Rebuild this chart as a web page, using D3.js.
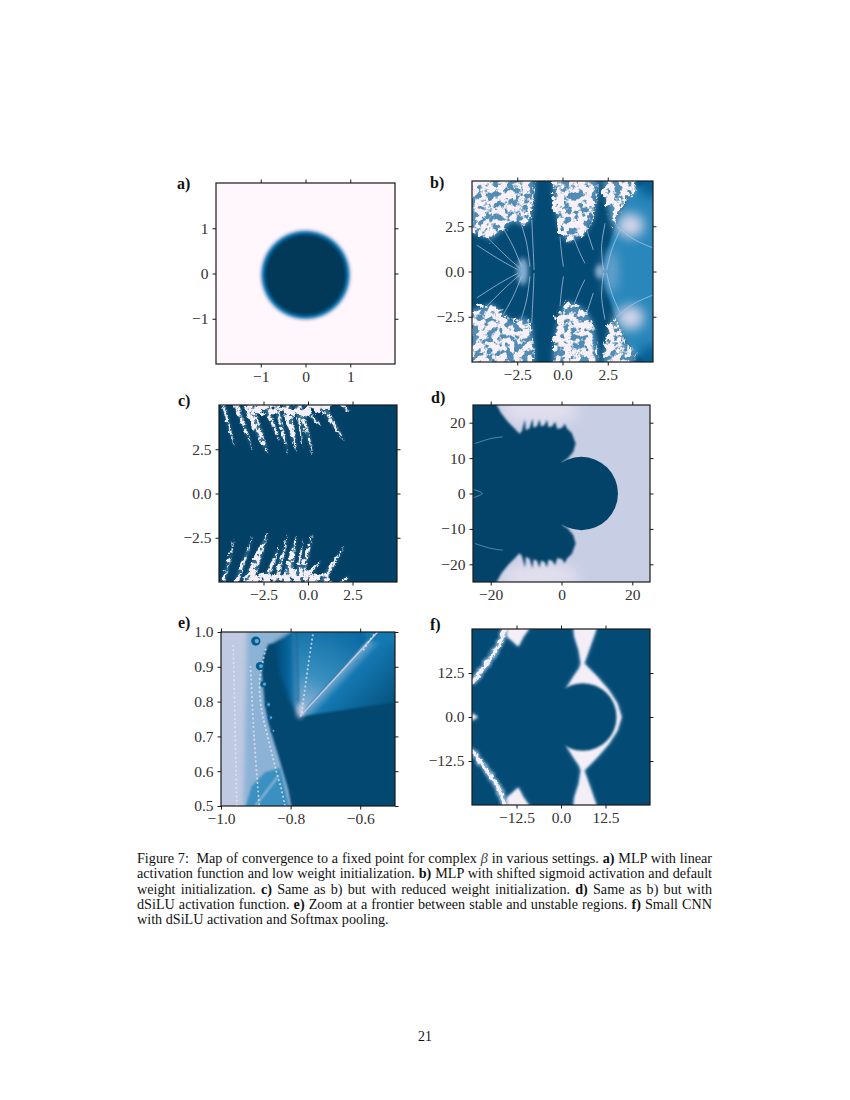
<!DOCTYPE html>
<html>
<head>
<meta charset="utf-8">
<script src="https://cdn.jsdelivr.net/npm/d3@7"></script>
<style>
  body { margin: 0; background: #fff; }
  svg { display: block; }
</style>
</head>
<body>
<script>
// ---------------- DATA (data coordinates) ----------------

// a) linear MLP: dark disc of radius ~1
var aDomain = [-2, 2];
var aTicks = [-1, 0, 1];
var aBackground = 0.0;
var aDiscCenter = [0, -0.03];
var aDiscProfile = [[0, 1], [0.85, 1], [0.91, 0.88], [0.96, 0.62], [1.0, 0.32], [1.04, 0.09], [1.08, 0]]; // radius, value

// b) shifted sigmoid, default init (top half, mirrored in y)
var bDomain = [-5, 5];
var bTicks = [-2.5, 0, 2.5];
var bDark = 0.93;
var bWhite = 0.05;
var bWhiteTop = [
  [[-5.3, 5.3], [-1.52, 5.3], [-1.52, 4.5], [-1.70, 2.85], [-2.16, 2.5], [-2.72, 2.75], [-3.27, 2.3], [-3.91, 1.75], [-4.47, 1.95], [-5.3, 2.2]],
  [[-0.51, 5.3], [1.98, 5.3], [1.98, 4.32], [1.70, 2.85], [1.34, 2.2], [0.78, 1.8], [0.23, 1.65], [-0.14, 2.2], [-0.41, 3.40], [-0.54, 4.5]],
  [[2.22, 5.3], [3.91, 5.3], [4.10, 4.5], [3.55, 3.95], [3.18, 3.21], [2.90, 2.48], [2.62, 2.85], [2.44, 3.77], [2.26, 4.5]]
];
var bRight = [[3.18, 3.21], [3.91, 4.5], [5.3, 5.3], [5.3, -5.3], [3.91, -4.5], [3.18, -3.21], [2.90, -2.48], [2.44, -1.0],
  [2.16, 0], [2.44, 1.0], [2.90, 2.48]];
var bRightValue = 0.66;
var bRightGlows = [[3.75, 2.55, 0.75, 0.65, 0.22], [3.75, -2.55, 0.75, 0.65, 0.22], [5.0, 5.0, 0.9, 0.9, 0.85],
  [5.0, -5.0, 0.9, 0.9, 0.85], [2.7, 0, 0.35, 1.2, 0.5]];
var bStreaks = [
  [[-4.19, 1.92], [-3.08, 0.82], [-2.35, 0.18]],
  [[-4.74, 1.46], [-3.45, 0.64], [-2.44, 0.08]],
  [[-3.27, 2.38], [-2.72, 1.37], [-2.26, 0.27]],
  [[-2.35, 2.85], [-1.98, 1.56], [-1.80, 0.27]],
  [[-1.70, 2.85], [-1.61, 1.0], [-1.57, 0.08]],
  [[-0.14, 1.92], [-0.05, 1.0], [0.05, 0.27]],
  [[0.60, 1.92], [0.97, 1.0], [1.24, 0.45]],
  [[1.34, 2.29], [1.70, 1.19]],
  [[2.35, 2.66], [2.16, 1.37], [2.26, 0.08]],
  [[3.18, 2.29], [2.72, 1.19], [2.44, 0.08]],
  [[3.0, 2.5], [3.9, 1.8], [5.0, 1.3]]
];
var bGlows = [[-2.2, 0, 0.3, 0.75, 0.45], [2.05, 0, 0.22, 0.4, 0.4]];

// c) reduced init: streaks from the top edge (mirrored for the bottom)
var cDomain = [-5, 5];
var cTicks = [-2.5, 0, 2.5];
var cDark = 0.97;
var cWhite = 0.07;
var cStreaks = [ // x top, y top, x tip, y tip, width
  [-4.78, 5.1, -4.10, 2.57, 0.18],
  [-4.04, 5.1, -3.07, 2.38, 0.24],
  [-3.40, 5.1, -2.23, 2.19, 0.55],
  [-2.45, 5.1, -1.57, 2.94, 0.3],
  [-1.80, 5.1, -1.10, 2.19, 0.26],
  [-1.24, 5.1, -0.64, 2.38, 0.5],
  [-0.66, 5.1, -0.26, 2.57, 0.22],
  [-0.50, 5.1, 0.30, 2.19, 0.3],
  [0.11, 4.44, 0.77, 3.78, 0.18],
  [0.70, 5.1, 2.08, 2.94, 0.3],
  [1.85, 5.1, 2.36, 4.63, 0.18]
];
var cTopBlob = [[-3.4, 5.3], [1.6, 5.3], [1.2, 4.7], [0.4, 4.5], [-0.6, 4.2], [-1.5, 4.6], [-2.5, 4.4], [-3.3, 4.7]];

// d) dSiLU activation
var dDomain = [-25, 25];
var dTicksX = [-20, 0, 20];
var dTicksY = [-20, -10, 0, 10, 20];
var dLight = 0.27;
var dDark = 0.96;
var dBodyTop = [[-25.5, 25.5], [-18.6, 25.5], [-17.0, 22.6], [-15.1, 20.2], [-13.2, 18.3], [-11.9, 16.9], [-11.2, 17.6],
  [-10.3, 21.0], [-10.1, 17.9], [-9.0, 18.4], [-8.2, 21.2], [-7.9, 18.6], [-6.9, 19.0], [-6.2, 21.0], [-5.8, 18.9],
  [-4.8, 19.3], [-4.1, 20.8], [-3.7, 18.7], [-2.6, 19.0], [-1.8, 20.3], [-1.2, 18.2], [0.2, 18.6], [0.9, 19.7],
  [1.6, 18.3], [2.9, 17.1], [4.0, 14.1], [3.3, 11.7], [1.7, 9.8], [0.3, 8.9], [1.0, 0]];
var dBulb = [5.6, 0, 10.35];
var dPale = [[-6, 23.5, 11, 4, 0.17], [-6, -23.5, 11, 4, 0.17]];
var dArcs = [
  [[-24.5, 14.1], [-20, 15.5], [-16.6, 16.0]],
  [[-24.5, -14.1], [-20, -15.5], [-16.6, -16.0]],
  [[-25, 1.2], [-22.4, 0], [-25, -1.2]]
];

// e) zoom at the frontier
var eDomainX = [-1.0, -0.5];
var eDomainY = [0.5, 1.0];
var eTicksX = [-1.0, -0.8, -0.6];
var eTicksY = [0.5, 0.6, 0.7, 0.8, 0.9, 1.0];
var eLight = 0.3;
var eBand = [[-0.925, 1.01], [-0.80, 1.01], [-0.80, 0.49], [-0.935, 0.49]];
var eBandValue = 0.44;
var eBandLow = [[-0.931, 0.49], [-0.912, 0.557], [-0.874, 0.596], [-0.830, 0.610], [-0.802, 0.49]];
var eBandLowValue = 0.62;
var eLowStreak = [[-0.902, 0.5], [-0.835, 0.586]];
var eBlade = [[-0.864, 0.965], [-0.878, 0.931], [-0.883, 0.883], [-0.878, 0.835], [-0.874, 0.787], [-0.864, 0.739],
  [-0.850, 0.692], [-0.835, 0.644], [-0.821, 0.596], [-0.807, 0.548], [-0.797, 0.49], [-0.49, 0.49], [-0.49, 1.01],
  [-0.783, 1.01], [-0.816, 0.979], [-0.845, 0.969]];
var eDark = 0.94;
var eCurtain = [[-0.845, 0.969], [-0.783, 1.01], [-0.773, 0.757], [-0.80, 0.80], [-0.83, 0.88]];
var eCurtainStops = [[-0.85, 0.94], [-0.80, 0.8], [-0.775, 0.55]];
var eApex = [-0.773, 0.757];
var eFan = [[-0.773, 0.757], [-0.783, 1.01], [-0.55, 1.01]];
var eFanStops = [[0, 0.2], [0.08, 0.42], [0.4, 0.62], [1, 0.8]];
var eWedge = [[-0.773, 0.757], [-0.55, 1.01], [-0.49, 1.01], [-0.49, 0.8]];
var eWedgeStops = [[0, 0.5], [0.15, 0.72], [1, 0.93]];
var eTopRight = [[-0.6, 1.01], [-0.49, 1.01], [-0.49, 0.965], [-0.575, 0.97]];
var eRay = [[-0.773, 0.757], [-0.55, 1.0]];
var eBeads = [
  [[-0.872, 0.95], [-0.889, 0.86], [-0.884, 0.78], [-0.871, 0.72], [-0.856, 0.66], [-0.841, 0.6], [-0.827, 0.55], [-0.816, 0.5]],
  [[-0.965, 0.96], [-0.96, 0.75], [-0.955, 0.5]],
  [[-0.915, 0.9], [-0.905, 0.7], [-0.89, 0.5]],
  [[-0.768, 0.77], [-0.75, 0.9], [-0.735, 1.0]],
  [[-0.59, 0.95], [-0.57, 0.98], [-0.555, 1.0]]
];
var eSpirals = [[-0.900, 0.974, 0.0134], [-0.888, 0.902, 0.012], [-0.878, 0.850, 0.009], [-0.866, 0.792, 0.008],
  [-0.859, 0.754, 0.007], [-0.852, 0.716, 0.006]];

// f) small CNN with softmax pooling
var fDomain = [-25, 25];
var fTicks = [-12.5, 0, 12.5];
var fDark = 0.93;
var fLight = 0.07;
var fCrescent = [[3.5, 25.5], [10.1, 25.5], [8.2, 20], [6.5, 15.2], [10.1, 11.5], [13.4, 7.7], [15.8, 3.9], [17.0, 0],
  [15.8, -3.9], [13.4, -7.7], [10.1, -11.5], [6.5, -15.2], [8.2, -20], [10.1, -25.5], [3.5, -25.5], [3.8, -22.8],
  [5.0, -19], [5.6, -15.2], [5.1, -13.8], [3.5, -11.4], [1.65, -8.4], [1.65, 8.4], [3.5, 11.4], [5.1, 13.8],
  [5.6, 15.2], [5.0, 19], [3.8, 22.8]];
var fWedgeTop = [[-16.2, 25.5], [-8.7, 25.5], [-10.6, 22.8], [-12.0, 20.0], [-13.4, 21.4], [-15.1, 22.8]];
var fNotch = [[-25.5, 1.2], [-23.3, 0], [-25.5, -1.2]];
var fRaggedTop = [[-25.5, 9.5], [-24.7, 10.0], [-21.9, 13.8], [-19.5, 17.1], [-17.2, 20.9], [-15.8, 25.5]];
var fBulb = [6.1, 0, 9.5];

// caption and page
var panelNames = ["a)", "b)", "c)", "d)", "e)", "f)"];
var captionLines = [
  [["Figure 7:  Map of convergence to a fixed point for complex ", "n"], ["\u03b2", "i"], [" in various settings. ", "n"], ["a)", "b"], [" MLP with linear", "n"]],
  [["activation function and low weight initialization. ", "n"], ["b)", "b"], [" MLP with shifted sigmoid activation and default", "n"]],
  [["weight initialization. ", "n"], ["c)", "b"], [" Same as b) but with reduced weight initialization. ", "n"], ["d)", "b"], [" Same as b) but with", "n"]],
  [["dSiLU activation function. ", "n"], ["e)", "b"], [" Zoom at a frontier between stable and unstable regions. ", "n"], ["f)", "b"], [" Small CNN", "n"]],
  [["with dSiLU activation and Softmax pooling.", "n"]]
];
var pageNumber = "21";

// ---------------- LAYOUT ----------------
var boxes = {
  a: {x: 216, y: 183, w: 179, h: 181, lx: 177, ly: 189},
  b: {x: 472, y: 181, w: 181, h: 181, lx: 430, ly: 188},
  c: {x: 219, y: 405, w: 178, h: 177, lx: 178, ly: 406},
  d: {x: 473, y: 405, w: 177, h: 177, lx: 431, ly: 403},
  e: {x: 221, y: 632, w: 174, h: 174, lx: 178, ly: 628},
  f: {x: 472, y: 629, w: 178, h: 176, lx: 430, ly: 630}
};
var serif = '"Liberation Serif", "Times New Roman", Times, serif';
var color = d3.interpolatePuBu;

var svg = d3.select("body").append("svg").attr("width", 850).attr("height", 1100);
var defs = svg.append("defs");

// ---------------- HELPERS ----------------
function makePanel(key, xDomain, yDomain) {
  var b = boxes[key];
  var p = {key: key, box: b};
  p.x = d3.scaleLinear().domain(xDomain).range([b.x, b.x + b.w]);
  p.y = d3.scaleLinear().domain(yDomain).range([b.y + b.h, b.y]);
  p.ux = Math.abs(p.x(1) - p.x(0));
  defs.append("clipPath").attr("id", "clip-" + key).append("rect")
    .attr("x", b.x).attr("y", b.y).attr("width", b.w).attr("height", b.h);
  p.g = svg.append("g").attr("id", "panel-" + key);
  p.img = p.g.append("g").attr("clip-path", "url(#clip-" + key + ")");
  return p;
}

function filterEl(key, name) {
  var b = boxes[key];
  return defs.append("filter").attr("id", key + "-" + name)
    .attr("filterUnits", "userSpaceOnUse")
    .attr("x", b.x - 15).attr("y", b.y - 15).attr("width", b.w + 30).attr("height", b.h + 30)
    .attr("color-interpolation-filters", "sRGB");
}

function blurFilter(key, name, sd) {
  filterEl(key, name).append("feGaussianBlur").attr("stdDeviation", sd);
  return "url(#" + key + "-" + name + ")";
}

// ragged, mottled look for the fractal regions
function speckleFilter(key, name, freq, octaves, cut, disp, seed) {
  var f = filterEl(key, name);
  f.append("feTurbulence").attr("type", "fractalNoise").attr("baseFrequency", freq)
    .attr("numOctaves", octaves).attr("seed", seed).attr("result", "noise");
  f.append("feDisplacementMap").attr("in", "SourceGraphic").attr("in2", "noise").attr("scale", disp)
    .attr("xChannelSelector", "R").attr("yChannelSelector", "G").attr("result", "disp");
  f.append("feColorMatrix").attr("in", "noise").attr("type", "matrix")
    .attr("values", "0 0 0 0 0  0 0 0 0 0  0 0 0 0 0  8 0 0 0 " + (-8 * cut)).attr("result", "holes");
  f.append("feComposite").attr("in", "disp").attr("in2", "holes").attr("operator", "in").attr("result", "spk");
  f.append("feGaussianBlur").attr("in", "spk").attr("stdDeviation", 0.3);
  return "url(#" + key + "-" + name + ")";
}

function raggedFilter(key, name, freq, disp, sd) {
  var f = filterEl(key, name);
  f.append("feTurbulence").attr("type", "fractalNoise").attr("baseFrequency", freq)
    .attr("numOctaves", 2).attr("seed", 2).attr("result", "noise");
  f.append("feDisplacementMap").attr("in", "SourceGraphic").attr("in2", "noise").attr("scale", disp)
    .attr("xChannelSelector", "R").attr("yChannelSelector", "G").attr("result", "disp");
  f.append("feGaussianBlur").attr("in", "disp").attr("stdDeviation", sd);
  return "url(#" + key + "-" + name + ")";
}

function shape(p, pts) {
  return d3.line().x(function(d) { return p.x(d[0]); }).y(function(d) { return p.y(d[1]); })(pts) + "Z";
}
function curve(p, pts) {
  return d3.line().curve(d3.curveCatmullRom).x(function(d) { return p.x(d[0]); }).y(function(d) { return p.y(d[1]); })(pts);
}
function mirror(pts) { return pts.map(function(d) { return [d[0], -d[1]]; }); }

function fillRect(p, v) {
  var b = p.box;
  p.img.append("rect").attr("x", b.x - 2).attr("y", b.y - 2).attr("width", b.w + 4).attr("height", b.h + 4).attr("fill", color(v));
}

function addStops(grad, stops) {
  grad.selectAll("stop").data(stops).enter().append("stop")
    .attr("offset", function(d) { return d[0]; })
    .attr("stop-color", function(d) { return color(d[1]); });
}

function ellipses(p, sel, data) {
  return sel.selectAll("ellipse").data(data).enter().append("ellipse")
    .attr("cx", function(d) { return p.x(d[0]); }).attr("cy", function(d) { return p.y(d[1]); })
    .attr("rx", function(d) { return d[2] * p.ux; }).attr("ry", function(d) { return d[3] * p.ux; })
    .attr("fill", function(d) { return color(d[4]); });
}

function streakPath(p, s) {
  var x1 = p.x(s[0]), y1 = p.y(s[1]), x2 = p.x(s[2]), y2 = p.y(s[3]);
  var dx = x2 - x1, dy = y2 - y1, len = Math.hypot(dx, dy);
  var nx = -dy / len, ny = dx / len, hw = s[4] * p.ux / 2;
  var mx = x1 + dx * 0.6, my = y1 + dy * 0.6;
  return "M" + [x1 + nx * hw, y1 + ny * hw] + "L" + [mx + nx * hw * 0.6, my + ny * hw * 0.6] + "L" + [x2, y2] +
    "L" + [mx - nx * hw * 0.6, my - ny * hw * 0.6] + "L" + [x1 - nx * hw, y1 - ny * hw] + "Z";
}

function drawAxes(p, xTicks, yTicks, xFmt, yFmt, name) {
  var b = p.box;
  var frame = p.g.append("g");
  frame.append("rect").attr("x", b.x).attr("y", b.y).attr("width", b.w).attr("height", b.h)
    .attr("fill", "none").attr("stroke", "#1a1a1a").attr("stroke-width", 1.2);
  frame.append("g").attr("transform", "translate(0," + (b.y + b.h) + ")")
    .call(d3.axisBottom(p.x).tickValues(xTicks).tickFormat(xFmt).tickSize(3.5).tickPadding(3.5));
  frame.append("g").attr("transform", "translate(" + b.x + ",0)")
    .call(d3.axisLeft(p.y).tickValues(yTicks).tickFormat(yFmt).tickSize(3.5).tickPadding(4));
  frame.append("g").attr("transform", "translate(0," + b.y + ")")
    .call(d3.axisTop(p.x).tickValues(xTicks).tickFormat("").tickSize(3.5));
  frame.append("g").attr("transform", "translate(" + (b.x + b.w) + ",0)")
    .call(d3.axisRight(p.y).tickValues(yTicks).tickFormat("").tickSize(3.5));
  frame.selectAll(".domain").remove();
  frame.selectAll(".tick line").attr("stroke", "#1a1a1a").attr("stroke-width", 1);
  frame.selectAll(".tick text").attr("font-family", serif).attr("font-size", 15.5).attr("fill", "#333");
  p.g.append("text").attr("x", b.lx).attr("y", b.ly).text(name)
    .attr("font-family", serif).attr("font-size", 16).attr("font-weight", "bold").attr("fill", "#111");
}

// ---------------- a) ----------------
var pa = makePanel("a", aDomain, aDomain);
fillRect(pa, aBackground);
var aR = aDiscProfile[aDiscProfile.length - 1][0];
var aGrad = defs.append("radialGradient").attr("id", "a-disc").attr("gradientUnits", "userSpaceOnUse")
  .attr("cx", pa.x(aDiscCenter[0])).attr("cy", pa.y(aDiscCenter[1])).attr("r", aR * pa.ux);
addStops(aGrad, aDiscProfile.map(function(d) { return [d[0] / aR, d[1]]; }));
pa.img.append("circle").attr("cx", pa.x(aDiscCenter[0])).attr("cy", pa.y(aDiscCenter[1]))
  .attr("r", aR * pa.ux).attr("fill", "url(#a-disc)");
drawAxes(pa, aTicks, aTicks, d3.format("d"), d3.format("d"), panelNames[0]);

// ---------------- b) ----------------
var pb = makePanel("b", bDomain, bDomain);
fillRect(pb, bDark);
pb.img.append("path").attr("d", shape(pb, bRight)).attr("fill", color(bRightValue)).attr("filter", blurFilter("b", "soft", 1.8));
ellipses(pb, pb.img.append("g").attr("filter", blurFilter("b", "rglow", 6)), bRightGlows);
ellipses(pb, pb.img.append("g").attr("filter", blurFilter("b", "glow", 2.5)), bGlows);
pb.img.append("g").attr("filter", blurFilter("b", "thin", 0.45))
  .selectAll("path").data(bStreaks.concat(bStreaks.map(mirror))).enter().append("path")
  .attr("d", function(d) { return curve(pb, d); })
  .attr("fill", "none").attr("stroke", color(0.3)).attr("stroke-width", 1).attr("opacity", 0.7);
var bWhiteAll = bWhiteTop.concat(bWhiteTop.map(mirror));
pb.img.append("g").attr("filter", blurFilter("b", "under", 2.5)).attr("opacity", 0.7)
  .selectAll("path").data(bWhiteAll).enter().append("path")
  .attr("d", function(d) { return shape(pb, d); }).attr("fill", color(0.5));
pb.img.append("g").attr("filter", speckleFilter("b", "spk", 0.14, 4, 0.4, 14, 4))
  .selectAll("path").data(bWhiteAll).enter().append("path")
  .attr("d", function(d) { return shape(pb, d); }).attr("fill", color(bWhite));
drawAxes(pb, bTicks, bTicks, d3.format(".1f"), d3.format(".1f"), panelNames[1]);

// ---------------- c) ----------------
var pc = makePanel("c", cDomain, cDomain);
fillRect(pc, cDark);
var cAll = cStreaks.concat(cStreaks.map(function(s) { return [s[0], -s[1], s[2], -s[3], s[4]]; }));
var cBlobs = [cTopBlob, mirror(cTopBlob)];
var cUnder = pc.img.append("g").attr("filter", blurFilter("c", "under", 1.5)).attr("opacity", 0.5);
cUnder.selectAll("path.streak").data(cAll).enter().append("path").attr("class", "streak")
  .attr("d", function(d) { return streakPath(pc, d); }).attr("fill", color(0.5));
var cWhiteG = pc.img.append("g").attr("filter", speckleFilter("c", "spk", 0.2, 4, 0.36, 7, 9));
cWhiteG.selectAll("path.streak").data(cAll).enter().append("path").attr("class", "streak")
  .attr("d", function(d) { return streakPath(pc, d); }).attr("fill", color(cWhite));
cWhiteG.selectAll("path.blob").data(cBlobs).enter().append("path").attr("class", "blob")
  .attr("d", function(d) { return shape(pc, d); }).attr("fill", color(cWhite));
drawAxes(pc, cTicks, cTicks, d3.format(".1f"), d3.format(".1f"), panelNames[2]);

// ---------------- d) ----------------
var pd = makePanel("d", dDomain, dDomain);
fillRect(pd, dLight);
ellipses(pd, pd.img.append("g").attr("filter", blurFilter("d", "pale", 7)), dPale);
var dBody = dBodyTop.concat(mirror(dBodyTop).reverse().slice(1));
pd.img.append("path").attr("d", shape(pd, dBody)).attr("fill", color(dDark)).attr("filter", blurFilter("d", "body", 0.9));
pd.img.append("circle").attr("cx", pd.x(dBulb[0])).attr("cy", pd.y(dBulb[1])).attr("r", dBulb[2] * pd.ux)
  .attr("fill", color(dDark)).attr("filter", blurFilter("d", "bulb", 0.5));
pd.img.append("g").attr("filter", blurFilter("d", "arc", 0.5))
  .selectAll("path").data(dArcs).enter().append("path")
  .attr("d", function(d) { return curve(pd, d); })
  .attr("fill", "none").attr("stroke", color(0.5)).attr("stroke-width", 1).attr("opacity", 0.7);
drawAxes(pd, dTicksX, dTicksY, d3.format("d"), d3.format("d"), panelNames[3]);

// ---------------- e) ----------------
var pe = makePanel("e", eDomainX, eDomainY);
fillRect(pe, eLight);
var eSoft = blurFilter("e", "soft", 1.0);
pe.img.append("path").attr("d", shape(pe, eBand)).attr("fill", color(eBandValue)).attr("filter", blurFilter("e", "band", 2));
pe.img.append("path").attr("d", shape(pe, eBandLow)).attr("fill", color(eBandLowValue)).attr("filter", eSoft);
pe.img.append("path").attr("d", curve(pe, eLowStreak)).attr("stroke", color(0.35)).attr("stroke-width", 1.6)
  .attr("fill", "none").attr("filter", eSoft);
pe.img.append("path").attr("d", shape(pe, eBlade)).attr("fill", color(eDark)).attr("filter", eSoft);
var cx0 = eCurtainStops[0][0], cx1 = eCurtainStops[eCurtainStops.length - 1][0];
var eCur = defs.append("linearGradient").attr("id", "e-curtain").attr("gradientUnits", "userSpaceOnUse")
  .attr("x1", pe.x(cx0)).attr("x2", pe.x(cx1)).attr("y1", 0).attr("y2", 0);
addStops(eCur, eCurtainStops.map(function(d) { return [(d[0] - cx0) / (cx1 - cx0), d[1]]; }));
pe.img.append("path").attr("d", shape(pe, eCurtain)).attr("fill", "url(#e-curtain)").attr("filter", blurFilter("e", "cur", 2));
var eFanG = defs.append("radialGradient").attr("id", "e-fan").attr("gradientUnits", "userSpaceOnUse")
  .attr("cx", pe.x(eApex[0])).attr("cy", pe.y(eApex[1])).attr("r", 0.3 * pe.ux);
addStops(eFanG, eFanStops);
pe.img.append("path").attr("d", shape(pe, eFan)).attr("fill", "url(#e-fan)").attr("filter", eSoft);
// wedge right of the ray, shaded across the ray
var ax = pe.x(eRay[0][0]), ay = pe.y(eRay[0][1]), bx = pe.x(eRay[1][0]), by = pe.y(eRay[1][1]);
var rl = Math.hypot(bx - ax, by - ay), mx = (ax + bx) / 2, my = (ay + by) / 2;
var nxr = -(by - ay) / rl, nyr = (bx - ax) / rl;
var eW = defs.append("linearGradient").attr("id", "e-wedge").attr("gradientUnits", "userSpaceOnUse")
  .attr("x1", mx).attr("y1", my).attr("x2", mx + nxr * 70).attr("y2", my + nyr * 70);
addStops(eW, eWedgeStops);
pe.img.append("path").attr("d", shape(pe, eWedge)).attr("fill", "url(#e-wedge)").attr("filter", eSoft);
pe.img.append("path").attr("d", shape(pe, eTopRight)).attr("fill", color(0.72)).attr("filter", blurFilter("e", "tr", 2.5));
pe.img.append("path").attr("d", curve(pe, eRay)).attr("stroke", color(0.3)).attr("stroke-width", 1.6)
  .attr("fill", "none").attr("filter", blurFilter("e", "ray", 0.7));
pe.img.append("ellipse").attr("cx", pe.x(eApex[0])).attr("cy", pe.y(eApex[1]) - 6).attr("rx", 3).attr("ry", 8)
  .attr("fill", color(0.25)).attr("filter", blurFilter("e", "apex", 2.5));
pe.img.append("g").selectAll("path").data(eBeads).enter().append("path")
  .attr("d", function(d) { return curve(pe, d); })
  .attr("fill", "none").attr("stroke", color(0.12)).attr("stroke-width", 2)
  .attr("stroke-linecap", "round").attr("stroke-dasharray", "0.1 4.2").attr("opacity", 0.75);
var eSp = pe.img.append("g").attr("filter", blurFilter("e", "sp", 0.5)).selectAll("g").data(eSpirals).enter().append("g");
eSp.append("circle").attr("cx", function(d) { return pe.x(d[0]); }).attr("cy", function(d) { return pe.y(d[1]); })
  .attr("r", function(d) { return d[2] * pe.ux; }).attr("fill", color(0.85));
eSp.append("circle").attr("cx", function(d) { return pe.x(d[0]) + 1; }).attr("cy", function(d) { return pe.y(d[1]); })
  .attr("r", function(d) { return d[2] * pe.ux * 0.45; }).attr("fill", color(0.5));
drawAxes(pe, eTicksX, eTicksY, d3.format(".1f"), d3.format(".1f"), panelNames[4]);

// ---------------- f) ----------------
var pf = makePanel("f", fDomain, fDomain);
fillRect(pf, fDark);
var fShapes = [fCrescent, fWedgeTop, mirror(fWedgeTop), fNotch];
pf.img.append("g").attr("filter", blurFilter("f", "glow", 2.2))
  .selectAll("path").data(fShapes).enter().append("path")
  .attr("d", function(d) { return shape(pf, d); }).attr("fill", color(0.45));
pf.img.append("g").attr("filter", blurFilter("f", "core", 0.8))
  .selectAll("path").data(fShapes).enter().append("path")
  .attr("d", function(d) { return shape(pf, d); }).attr("fill", color(fLight));
var fRag = [fRaggedTop, mirror(fRaggedTop)];
pf.img.append("g").attr("filter", raggedFilter("f", "ragglow", 0.25, 5, 1.6))
  .selectAll("path").data(fRag).enter().append("path")
  .attr("d", function(d) { return curve(pf, d); })
  .attr("fill", "none").attr("stroke", color(0.45)).attr("stroke-width", 7);
pf.img.append("g").attr("filter", raggedFilter("f", "rag", 0.25, 5, 0.5))
  .selectAll("path").data(fRag).enter().append("path")
  .attr("d", function(d) { return curve(pf, d); })
  .attr("fill", "none").attr("stroke", color(fLight)).attr("stroke-width", 3.6);
pf.img.append("circle").attr("cx", pf.x(fBulb[0])).attr("cy", pf.y(fBulb[1])).attr("r", fBulb[2] * pf.ux)
  .attr("fill", color(fDark)).attr("filter", blurFilter("f", "bulb", 0.8));
drawAxes(pf, fTicks, fTicks, d3.format(".1f"), d3.format(".1f"), panelNames[5]);

// ---------------- caption (justified lines) ----------------
var capWidth = 575;
var cap = svg.append("g").attr("font-family", serif).attr("font-size", 12.5).attr("fill", "#111");
var capTexts = captionLines.map(function(line, i) {
  var t = cap.append("text").attr("x", 137).attr("y", 863 + i * 15.3).style("white-space", "pre");
  line.forEach(function(seg) {
    var ts = t.append("tspan").text(seg[0]);
    if (seg[1] === "b") ts.attr("font-weight", "bold");
    if (seg[1] === "i") ts.attr("font-style", "italic").attr("fill", "#444");
  });
  return t;
});
var widest = d3.max(capTexts.slice(0, -1), function(t) { return t.node().getComputedTextLength(); });
cap.attr("font-size", 12.5 * (capWidth - 4) / widest);
capTexts.forEach(function(t, i) {
  if (i === capTexts.length - 1) return;
  var natural = t.node().getComputedTextLength();
  var spaces = captionLines[i].map(function(s) { return s[0]; }).join("").split(" ").length - 1;
  t.style("word-spacing", ((capWidth - natural) / spaces) + "px");
});

svg.append("text").attr("x", 425).attr("y", 1041).attr("text-anchor", "middle")
  .attr("font-family", serif).attr("font-size", 13.9).attr("fill", "#111").text(pageNumber);
</script>
</body>
</html>
